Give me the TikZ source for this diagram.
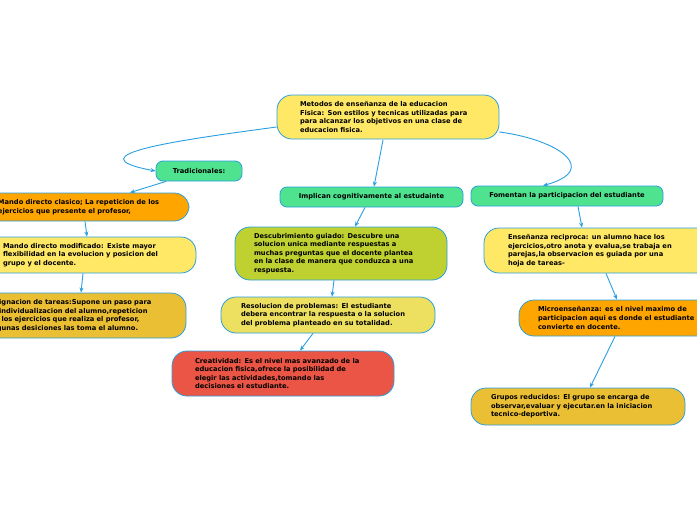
\documentclass[tikz,border=0pt]{standalone}
\usepackage{fontspec}
\setmainfont{DejaVu Sans}
\usetikzlibrary{arrows.meta}
\definecolor{cyel}{HTML}{FFE866}
\definecolor{cgrn}{HTML}{4FE38F}
\definecolor{corg}{HTML}{FFA500}
\definecolor{cgold}{HTML}{EBBF34}
\definecolor{colive}{HTML}{BFD130}
\definecolor{cyel2}{HTML}{EDE060}
\definecolor{cred}{HTML}{EB5545}
\definecolor{cline}{HTML}{2A9FE0}
\tikzset{
 box/.style={draw=cline, line width=0.8pt, rounded corners=15pt, align=left, font=\bfseries\fontsize{6.7}{8.6}\selectfont, inner ysep=2pt},
 tag/.style={draw=cline, line width=0.8pt, rounded corners=7pt, align=center, font=\bfseries\fontsize{6.7}{8}\selectfont, fill=cgrn, inner sep=0pt},
 link/.style={draw=cline, line width=0.9pt, -{Stealth[length=5pt,width=4pt]}}
}
\begin{document}
\begin{tikzpicture}[x=1pt,y=-1pt]
\useasboundingbox (0,0) rectangle (697,520);
\clip (0,0) rectangle (697,520);
\fill[white] (0,0) rectangle (697,520);
\node[box, fill=cyel, minimum width=222pt, minimum height=44pt, text width=176pt, inner xsep=23pt] (top) at (388,117) {Metodos de enseñanza de la educacion\\Fisica: Son estilos y tecnicas utilizadas para\\para alcanzar los objetivos en una clase de\\educacion fisica.};
\node[tag, minimum width=86pt, minimum height=20pt] (trad) at (199,171) {Tradicionales:};
\node[tag, minimum width=183pt, minimum height=20pt] (impl) at (371.5,197) {Implican cognitivamente al estudainte};
\node[tag, minimum width=192pt, minimum height=20pt] (fom) at (567,196) {Fomentan la participacion del estudiante};
\node[box, fill=corg, minimum width=211pt, minimum height=28pt, text width=171pt, inner xsep=20pt] (cla) at (83.5,207) {Mando directo clasico; La repeticion de los\\ejercicios que presente el profesor,};
\node[box, fill=cyel, minimum width=213pt, minimum height=36pt, text width=173pt, inner xsep=20pt] (mod) at (89.5,255) {Mando directo modificado: Existe mayor\\flexibilidad en la evolucion y posicion del\\grupo y el docente.};
\node[box, fill=cgold, minimum width=216pt, minimum height=45pt, text width=176pt, inner xsep=20pt] (asi) at (78,315.5) {Asignacion de tareas:Supone un paso para\\la individualizacion del alumno,repeticion\\de los ejercicios que realiza el profesor,\\algunas desiciones las toma el alumno.};
\node[box, fill=colive, minimum width=212pt, minimum height=53pt, text width=174pt, inner xsep=19pt] (des) at (341,253.5) {Descubrimiento guiado: Descubre una\\solucion unica mediante respuestas a\\muchas preguntas que el docente plantea\\en la clase de manera que conduzca a una\\respuesta.};
\node[box, fill=cyel2, minimum width=214pt, minimum height=36pt, text width=174pt, inner xsep=20pt] (res) at (328,315) {Resolucion de problemas: El estudiante\\debera encontrar la respuesta o la solucion\\del problema planteado en su totalidad.};
\node[box, fill=cred, minimum width=222pt, minimum height=45pt, text width=176pt, inner xsep=23pt] (cre) at (283,373.5) {Creatividad: Es el nivel mas avanzado de la\\educacion fisica,ofrece la posibilidad de\\elegir las actividades,tomando las\\decisiones el estudiante.};
\node[box, fill=cyel, minimum width=236pt, minimum height=45pt, text width=188pt, inner xsep=24pt] (ens) at (602,250.5) {Enseñanza reciproca: un alumno hace los\\ejercicios,otro anota y evalua,se trabaja en\\parejas,la observacion es guiada por una\\hoja de tareas-};
\node[box, fill=corg, minimum width=211pt, minimum height=36pt, text width=173pt, inner xsep=19pt] (mic) at (624.5,318) {Microenseñanza: es el nivel maximo de\\participacion aqui es donde el estudiante\\convierte en docente.};
\node[box, fill=cgold, minimum width=214pt, minimum height=37pt, text width=174pt, inner xsep=20pt] (gru) at (578,406.5) {Grupos reducidos: El grupo se encarga de\\observar,evaluar y ejecutar.en la iniciacion\\tecnico-deportiva.};
\draw[link] (top.west |- 0,127) .. controls (180,140) and (70,155) .. (trad.west);
\draw[link] (383,140) -- (impl.north -| 374,0);
\draw[link] (top.east |- 0,132) .. controls (560,140) and (600,170) .. (fom.north -| 543,0);
\draw[link] (trad.south -| 166,0) -- (cla.north -| 130,0);
\draw[link] (cla.south -| 85,0) -- (mod.north -| 87,0);
\draw[link] (mod.south -| 83,0) -- (asi.north -| 81,0);
\draw[link] (impl.south -| 365,0) -- (des.north -| 355,0);
\draw[link] (des.south -| 334,0) -- (res.north -| 332,0);
\draw[link] (res.south -| 313,0) -- (cre.north -| 300,0);
\draw[link] (fom.south -| 578,0) -- (ens.north -| 582,0);
\draw[link] (ens.south -| 606,0) -- (mic.north -| 617,0);
\draw[link] (mic.south -| 615,0) -- (gru.north -| 590,0);
\end{tikzpicture}
\end{document}
